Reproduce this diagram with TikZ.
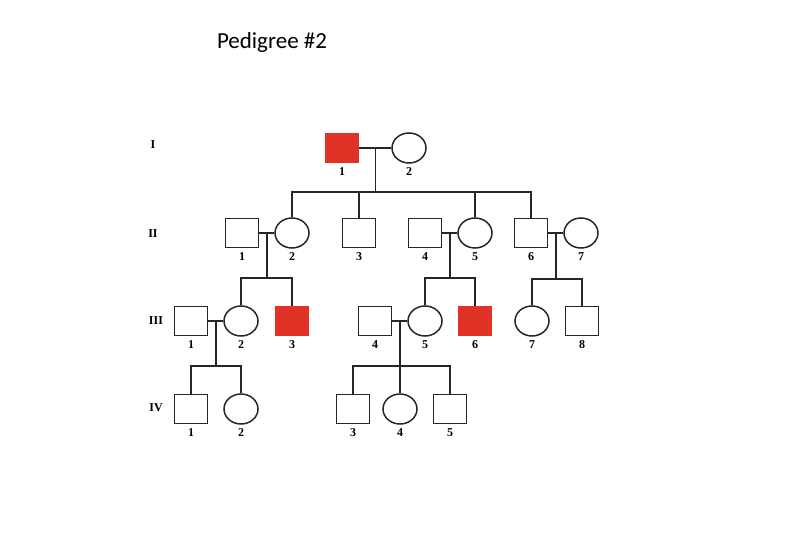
\documentclass[tikz,border=0pt]{standalone}
\usepackage{fontspec}
\setmainfont{Liberation Serif}
\newfontfamily\titlefont{Carlito}
\usetikzlibrary{shapes.geometric,calc}
\definecolor{pedred}{RGB}{224,50,38}

\begin{document}
\begin{tikzpicture}[x=1pt,y=-1pt,line width=1.5pt,
  male/.style={draw=black!85,minimum width=33,minimum height=29,inner sep=0pt},
  female/.style={draw=black!85,ellipse,minimum width=34,minimum height=30,inner sep=0pt},
  affected/.style={fill=pedred,draw=pedred},
  lbl/.style={font=\bfseries\fontsize{12}{12}\selectfont,label distance=0pt},
  gen/.style={font=\bfseries\fontsize{12}{12}\selectfont},
  link/.style={draw=black!85}]
  \useasboundingbox (0,0) rectangle (788,538);
  \node[font=\titlefont\fontsize{23}{23}\selectfont] (title) at (272,42) {Pedigree \#2};
  % generation marks
  \node[gen] (gI) at (153,145) {I};
  \node[gen] (gII) at (153,234) {II};
  \node[gen] (gIII) at (156,321) {III};
  \node[gen] (gIV) at (156,408) {IV};
  % generation I
  \node[male,affected,label={[lbl]below:1}] (I1) at (342,148) {};
  \node[female,label={[lbl]below:2}] (I2) at (409,148) {};
  % generation II
  \node[male,label={[lbl]below:1}] (II1) at (242,233) {};
  \node[female,label={[lbl]below:2}] (II2) at (292,233) {};
  \node[male,label={[lbl]below:3}] (II3) at (359,233) {};
  \node[male,label={[lbl]below:4}] (II4) at (425,233) {};
  \node[female,label={[lbl]below:5}] (II5) at (475,233) {};
  \node[male,label={[lbl]below:6}] (II6) at (531,233) {};
  \node[female,label={[lbl]below:7}] (II7) at (581,233) {};
  % generation III
  \node[male,label={[lbl]below:1}] (III1) at (191,321) {};
  \node[female,label={[lbl]below:2}] (III2) at (241,321) {};
  \node[male,affected,label={[lbl]below:3}] (III3) at (292,321) {};
  \node[male,label={[lbl]below:4}] (III4) at (375,321) {};
  \node[female,label={[lbl]below:5}] (III5) at (425,321) {};
  \node[male,affected,label={[lbl]below:6}] (III6) at (475,321) {};
  \node[female,label={[lbl]below:7}] (III7) at (532,321) {};
  \node[male,label={[lbl]below:8}] (III8) at (582,321) {};
  % generation IV
  \node[male,label={[lbl]below:1}] (IV1) at (191,409) {};
  \node[female,label={[lbl]below:2}] (IV2) at (241,409) {};
  \node[male,label={[lbl]below:3}] (IV3) at (353,409) {};
  \node[female,label={[lbl]below:4}] (IV4) at (400,409) {};
  \node[male,label={[lbl]below:5}] (IV5) at (450,409) {};
  % marriages
  \foreach \a/\b/\m in {I1/I2/mI,II1/II2/mII,II4/II5/mIIb,II6/II7/mIIc,III1/III2/mIII,III4/III5/mIIIb}{
    \draw[link] (\a.east) -- (\b.west);
    \coordinate (\m) at ($(\a)!0.5!(\b)$);
  }
  % sibships
  \coordinate (sI) at (mI |- 0,192);
  \coordinate (sII) at (mII |- 0,278);
  \coordinate (sIIb) at (mIIb |- 0,278);
  \coordinate (sIIc) at (mIIc |- 0,279);
  \coordinate (sIII) at (mIII |- 0,366);
  \coordinate (sIIIb) at (mIIIb |- 0,366);
  \draw[link] (mI) -- (sI);
  \draw[link] (II2.north) |- (sI) -| (II6.north);
  \foreach \c in {II3,II5} \draw[link] (\c.north) -- (\c.north |- sI);
  \draw[link] (mII) -- (sII);
  \draw[link] (III2.north) |- (sII) -| (III3.north);
  \draw[link] (mIIb) -- (sIIb);
  \draw[link] (III5.north) |- (sIIb) -| (III6.north);
  \draw[link] (mIIc) -- (sIIc);
  \draw[link] (III7.north) |- (sIIc) -| (III8.north);
  \draw[link] (mIII) -- (sIII);
  \draw[link] (IV1.north) |- (sIII) -| (IV2.north);
  \draw[link] (mIIIb) -- (IV4.north);
  \draw[link] (IV3.north) |- (sIIIb) -| (IV5.north);
\end{tikzpicture}
\end{document}
